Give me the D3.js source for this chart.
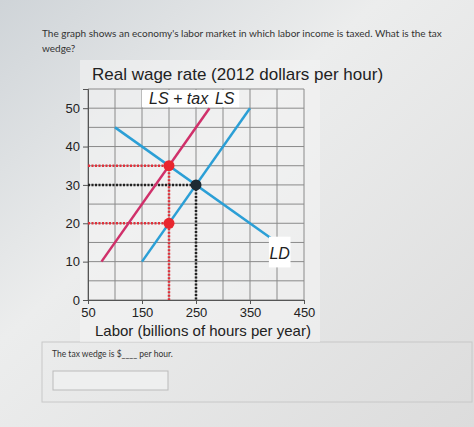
<!DOCTYPE html>
<html><head><meta charset="utf-8">
<script src="https://cdn.jsdelivr.net/npm/d3@7"></script>
<style>
body{margin:0;background:#d9dbdc;}
</style></head><body>
<svg id="c" width="474" height="427"></svg>
<script>
var xTicks = [50,150,250,350,450]
var yTicks = [0,10,20,30,40,50]
var ld = [[100,45],[400,15]]
var ls = [[150,10],[350,50]]
var lsTax = [[75,10],[275,50]]
var taxPt = [200,35], lsPt = [200,20], eqPt = [250,30]

var svg = d3.select('#c')
var bg = svg.append('defs').append('linearGradient').attr('id','bg').attr('x1',0).attr('y1',0).attr('x2',1).attr('y2',1)
bg.append('stop').attr('offset','0%').attr('stop-color','#cfd4d8')
bg.append('stop').attr('offset','40%').attr('stop-color','#eceded')
bg.append('stop').attr('offset','100%').attr('stop-color','#dcdcdc')
svg.append('rect').attr('width',474).attr('height',427).attr('fill','url(#bg)')
svg.append('rect').attr('x',42).attr('y',342).attr('width',430).attr('height',60).attr('fill','none').attr('stroke','#c8c8c8')
svg.append('rect').attr('x',80).attr('y',60).attr('width',240).attr('height',282).attr('fill','#f4f4f3').attr('opacity',0.6)

var t = svg.append('g').attr('font-family','Lato, sans-serif').attr('font-size',10).attr('fill','#333')
t.append('text').attr('x',42).attr('y',37).text("The graph shows an economy's labor market in which labor income is taxed. What is the tax")
t.append('text').attr('x',42).attr('y',52).text("wedge?")
t.append('text').attr('x',52).attr('y',357).attr('font-size',8.5).text("The tax wedge is $____ per hour.")
svg.append('rect').attr('x',53).attr('y',371).attr('width',115).attr('height',19).attr('fill','#eeefef').attr('stroke','#bbb')

var x = d3.scaleLinear().domain([50,450]).range([88,304])
var y = d3.scaleLinear().domain([0,55]).range([300,89])
var g = svg.append('g')
g.selectAll('.gv').data(d3.range(50,451,50)).join('line')
  .attr('x1',x).attr('x2',x).attr('y1',y(0)).attr('y2',y(55)).attr('stroke','#8a8a8a').attr('stroke-width',1)
g.selectAll('.gh').data(d3.range(0,56,5)).join('line')
  .attr('y1',y).attr('y2',y).attr('x1',x(50)).attr('x2',x(450)).attr('stroke','#8a8a8a').attr('stroke-width',1)

var ax = g.append('g').attr('transform','translate(0,'+y(0)+')')
  .call(d3.axisBottom(x).tickValues(xTicks).tickSize(4))
var ay = g.append('g').attr('transform','translate('+x(50)+',0)')
  .call(d3.axisLeft(y).tickValues(yTicks).tickSize(5))
;[ax,ay].forEach(function(a){ a.selectAll('text').attr('font-family','Liberation Sans, Arial').attr('font-size',13).attr('fill','#222')
  a.select('.domain').attr('stroke','#555'); a.selectAll('line').attr('stroke','#555') })
ax.selectAll('text').attr('dy','0.75em')

var line = d3.line().x(function(d){return x(d[0])}).y(function(d){return y(d[1])})
var dash = function(pts,col){ g.append('path').attr('d',line(pts)).attr('stroke',col).attr('stroke-width',2.5).attr('stroke-dasharray','2,1.5').attr('fill','none') }
dash([[50,taxPt[1]],taxPt,[taxPt[0],0]],'#e0303a')
dash([[50,lsPt[1]],lsPt],'#e0303a')
dash([[50,eqPt[1]],eqPt,[eqPt[0],0]],'#222')

g.append('path').attr('d',line(lsTax)).attr('stroke','#d0306a').attr('stroke-width',2.5).attr('fill','none')
g.append('path').attr('d',line(ls)).attr('stroke','#2b9fd6').attr('stroke-width',2.5).attr('fill','none')
g.append('path').attr('d',line(ld)).attr('stroke','#2b9fd6').attr('stroke-width',2.5).attr('fill','none')

g.selectAll('.pt').data([taxPt,lsPt]).join('circle').attr('cx',function(d){return x(d[0])}).attr('cy',function(d){return y(d[1])}).attr('r',5.5).attr('fill','#e8262e')
g.append('circle').attr('cx',x(eqPt[0])).attr('cy',y(eqPt[1])).attr('r',5.5).attr('fill','#1d2a33')

var lab = svg.append('g').attr('font-family','Liberation Sans, Arial').attr('fill','#222')
lab.append('text').attr('x',92).attr('y',80).attr('font-size',17).text('Real wage rate (2012 dollars per hour)')
lab.append('rect').attr('x',x(150)).attr('y',y(55)+1).attr('width',x(330)-x(150)).attr('height',y(50)-y(55)-2).attr('fill','#fff')
lab.append('text').attr('x',x(163)).attr('y',y(51)).attr('font-size',16).attr('font-style','italic').text('LS + tax')
lab.append('text').attr('x',x(285)).attr('y',y(51)).attr('font-size',16).attr('font-style','italic').text('LS')
lab.append('rect').attr('x',x(385)).attr('y',y(16.5)).attr('width',x(425)-x(385)).attr('height',y(8.5)-y(16.5)).attr('fill','#fff')
lab.append('text').attr('x',x(405)).attr('y',y(10.8)).attr('font-size',16).attr('font-style','italic').attr('text-anchor','middle').text('LD')
lab.append('text').attr('x',95).attr('y',336).attr('font-size',15).text('Labor (billions of hours per year)')
</script></body></html>
